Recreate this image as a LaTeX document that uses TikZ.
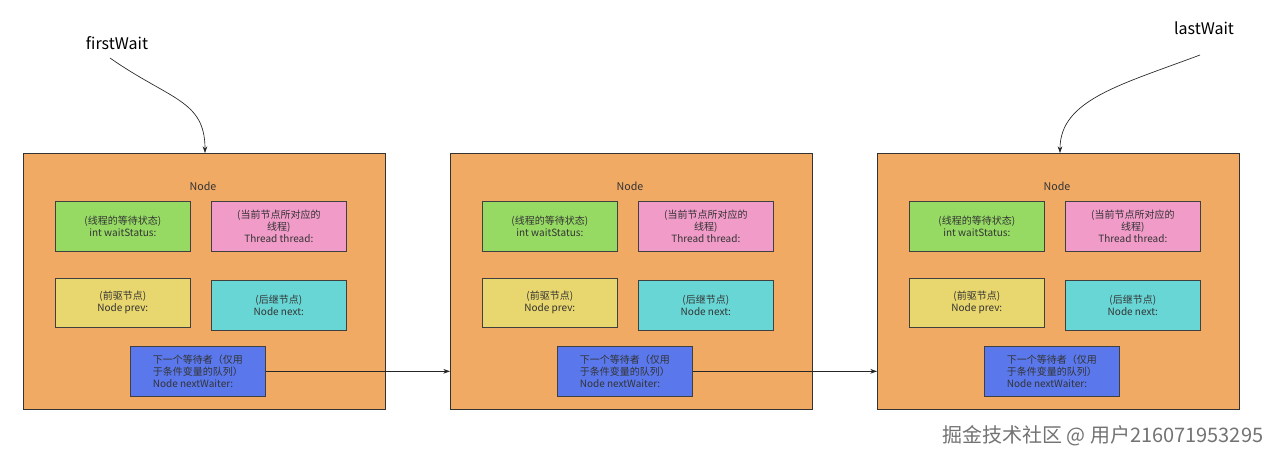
\documentclass[tikz,border=0pt]{standalone}
\usepackage{fontspec}
\usetikzlibrary{arrows.meta}
\setmainfont{Noto Sans CJK SC}
\begin{document}
\begin{tikzpicture}[x=0.75pt,y=-0.75pt,
  outer/.style={draw=black!80,fill={rgb,255:red,240;green,170;blue,100},line width=0.6pt},
  inbox/.style={draw=black!75,line width=0.5pt,minimum width=101.25pt,minimum height=37.5pt,align=center,font=\fontsize{7.5}{9}\selectfont,text=black!80,inner sep=1pt},
  lbl/.style={font=\fontsize{12}{14}\selectfont},
  arr/.style={-{Stealth[length=5pt,width=3.5pt]},line width=0.5pt,black!85}]
\useasboundingbox (0,0) rectangle (1283,463);
\fill[white] (0,0) rectangle (1283,463);
\foreach \i/\dx in {1/0,2/427,3/854}{
  \begin{scope}[xshift=\dx*0.75pt]
  \node[outer,draw,minimum width=271.5pt,minimum height=192pt,anchor=north west,inner sep=0] (n\i) at (23,153) {};
  \node[font=\fontsize{8}{10}\selectfont,text=black!80] (t\i) at (203,186) {Node};
  \node[inbox,fill={rgb,255:red,150;green,218;blue,100},anchor=north west] (g\i) at (55,201) {(线程的等待状态)\\int waitStatus:};
  \node[inbox,fill={rgb,255:red,240;green,155;blue,200},anchor=north west] (p\i) at (211,201) {(当前节点所对应的\\线程)\\Thread thread:};
  \node[inbox,fill={rgb,255:red,232;green,214;blue,110},anchor=north west,minimum height=36.75pt] (y\i) at (55,278) {(前驱节点)\\Node prev:};
  \node[inbox,fill={rgb,255:red,105;green,214;blue,214},anchor=north west] (c\i) at (211,280) {(后继节点)\\Node next:};
  \node[inbox,fill={rgb,255:red,90;green,120;blue,235},anchor=north west,align=left] (b\i) at (130,346) {下一个等待者（仅用\\于条件变量的队列）\\Node nextWaiter:};
  \end{scope}}
\draw[arr] (b1.east) -- (b1.east -| n2.west);
\draw[arr] (b2.east) -- (b2.east -| n3.west);
\node[lbl] (fw) at (117,43) {firstWait};
\node[lbl] (lw) at (1204,28) {lastWait};
\draw[arr] (110,58) .. controls (170,100) and (205,100) .. (205,153);
\draw[arr] (1200,55) .. controls (1120,85) and (1060,100) .. (1060,153);
\node[font=\fontsize{15}{17}\selectfont,text=black!55,anchor=east] (wm) at (1268,436) {掘金技术社区 @ 用户216071953295};
\end{tikzpicture}
\end{document}
